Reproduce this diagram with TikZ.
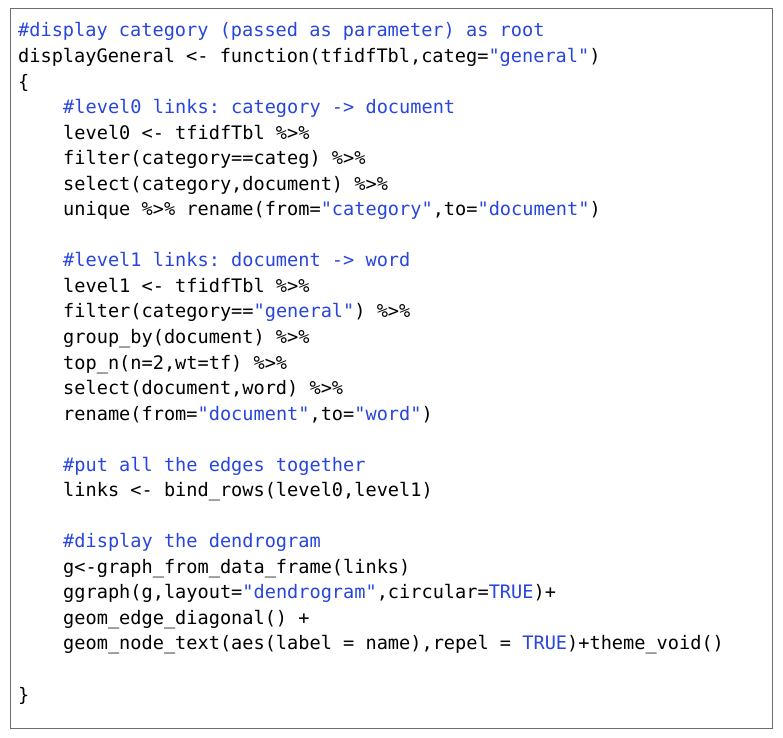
\documentclass[tikz,border=0pt]{standalone}
\usepackage{fontspec}
\setmonofont{DejaVu Sans Mono}
\definecolor{cb}{RGB}{40,70,220}
\definecolor{frame}{RGB}{110,110,110}
\newcommand\bl[1]{\textcolor{cb}{#1}}
\begin{document}
\begin{tikzpicture}[x=1pt,y=1pt,
  codeline/.style={anchor=base west,inner sep=0pt,font=\ttfamily\fontsize{18.6}{20}\selectfont}]
\useasboundingbox (0,0) rectangle (783,737);
\draw[frame,line width=1pt] (10.5,8.5) rectangle (772.5,728.5);
\def\L#1#2#3{\node[codeline] (l#1) at ({18+#2*11.26},{737-37-25.54*(#1-1)}) {#3};}
\L{1}{0}{\bl{\#display category (passed as parameter) as root}}
\L{2}{0}{displayGeneral <- function(tfidfTbl,categ=\bl{"general"})}
\L{3}{0}{\{}
\L{4}{4}{\bl{\#level0 links: category -> document}}
\L{5}{4}{level0 <- tfidfTbl \%>\%}
\L{6}{4}{filter(category==categ) \%>\%}
\L{7}{4}{select(category,document) \%>\%}
\L{8}{4}{unique \%>\% rename(from=\bl{"category"},to=\bl{"document"})}
\L{10}{4}{\bl{\#level1 links: document -> word}}
\L{11}{4}{level1 <- tfidfTbl \%>\%}
\L{12}{4}{filter(category==\bl{"general"}) \%>\%}
\L{13}{4}{group\_by(document) \%>\%}
\L{14}{4}{top\_n(n=2,wt=tf) \%>\%}
\L{15}{4}{select(document,word) \%>\%}
\L{16}{4}{rename(from=\bl{"document"},to=\bl{"word"})}
\L{18}{4}{\bl{\#put all the edges together}}
\L{19}{4}{links <- bind\_rows(level0,level1)}
\L{21}{4}{\bl{\#display the dendrogram}}
\L{22}{4}{g<-graph\_from\_data\_frame(links)}
\L{23}{4}{ggraph(g,layout=\bl{"dendrogram"},circular=\bl{TRUE})+}
\L{24}{4}{geom\_edge\_diagonal() +}
\L{25}{4}{geom\_node\_text(aes(label = name),repel = \bl{TRUE})+theme\_void()}
\L{27}{0}{\}}
\end{tikzpicture}
\end{document}
